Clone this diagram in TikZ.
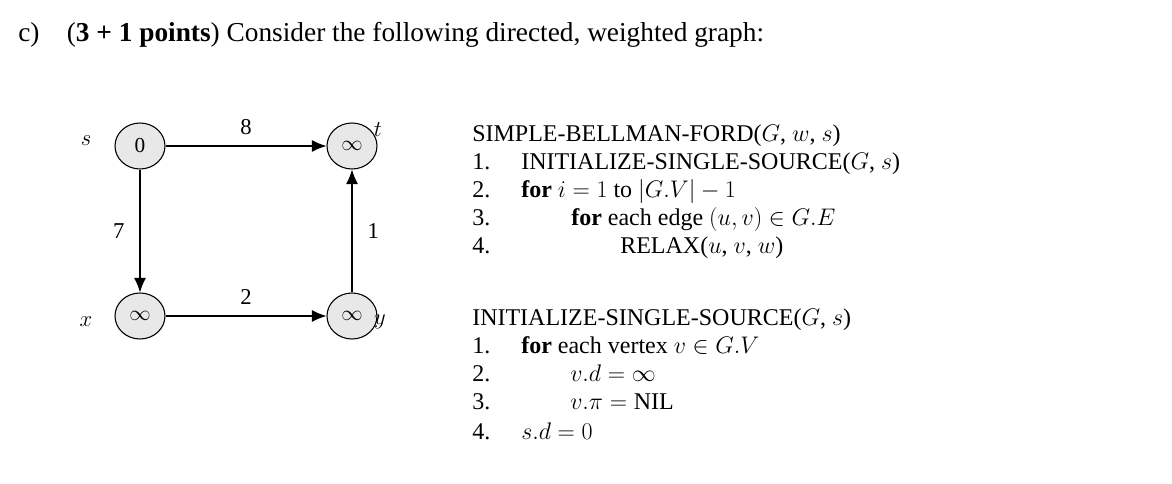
\RequirePackage{fix-cm}
\documentclass[tikz,border=0pt]{standalone}
\usepackage{amsmath}
\usepackage{fontspec}
\setmainfont{Liberation Serif}
\usetikzlibrary{arrows.meta,shapes.geometric}
\tikzset{
  vertex/.style={draw,thick,fill=gray!18,ellipse,minimum width=37.5pt,minimum height=34.5pt,inner sep=0pt,font=\fontsize{16}{19}\selectfont},
  edge/.style={thick,-{Latex[length=11pt,width=9pt]}},
  wlab/.style={font=\fontsize{17}{20}\selectfont},
  alg/.style={anchor=base west,inner sep=0pt,font=\fontsize{18}{21}\selectfont}
}
\begin{document}
\begin{tikzpicture}[x=0.75pt,y=-0.75pt]
\useasboundingbox (0,0) rectangle (1172,484);
% heading
\node[alg,font=\fontsize{20.5}{24}\selectfont] (head) at (18,42) {c)\quad(\textbf{3 + 1 points}) Consider the following directed, weighted graph:};
% the graph
\node[vertex] (s) at (140,146) {0};
\node[vertex] (t) at (352,146) {$\infty$};
\node[vertex] (x) at (140,316) {$\infty$};
\node[vertex] (y) at (352,316) {$\infty$};
\node[wlab] (ls) at (86,141) {$s$};
\node[wlab] (lt) at (378,130) {$t$};
\node[wlab] (lx) at (86,322) {$x$};
\node[wlab] (ly) at (380,322) {$y$};
\draw[edge] (s) -- (t) node[wlab,midway,above=5pt] {8};
\draw[edge] (s) -- (x) node[wlab,midway,left=8pt] {7};
\draw[edge] (x) -- (y) node[wlab,midway,above=5pt] {2};
\draw[edge] (y) -- (t) node[wlab,midway,right=8pt] {1};
% the two procedures
\node[alg] (a0) at (472,142) {SIMPLE-BELLMAN-FORD($G$, $w$, $s$)};
\node[alg] (a1) at (472,170) {1.}; \node[alg] (b1) at (521,170) {INITIALIZE-SINGLE-SOURCE($G$, $s$)};
\node[alg] (a2) at (472,198) {2.}; \node[alg] (b2) at (521,198) {\textbf{for} $i = 1$ to $|G.V| - 1$};
\node[alg] (a3) at (472,226) {3.}; \node[alg] (b3) at (571,226) {\textbf{for} each edge $(u,v) \in G.E$};
\node[alg] (a4) at (472,254) {4.}; \node[alg] (b4) at (620,254) {RELAX($u$, $v$, $w$)};
\node[alg] (c0) at (472,326) {INITIALIZE-SINGLE-SOURCE($G$, $s$)};
\node[alg] (c1) at (472,354) {1.}; \node[alg] (d1) at (521,354) {\textbf{for} each vertex $v \in G.V$};
\node[alg] (c2) at (472,382) {2.}; \node[alg] (d2) at (570,382) {$v.d = \infty$};
\node[alg] (c3) at (472,410) {3.}; \node[alg] (d3) at (570,410) {$v.\pi = {}$NIL};
\node[alg] (c4) at (472,440) {4.}; \node[alg] (d4) at (521,440) {$s.d = 0$};
\end{tikzpicture}
\end{document}
